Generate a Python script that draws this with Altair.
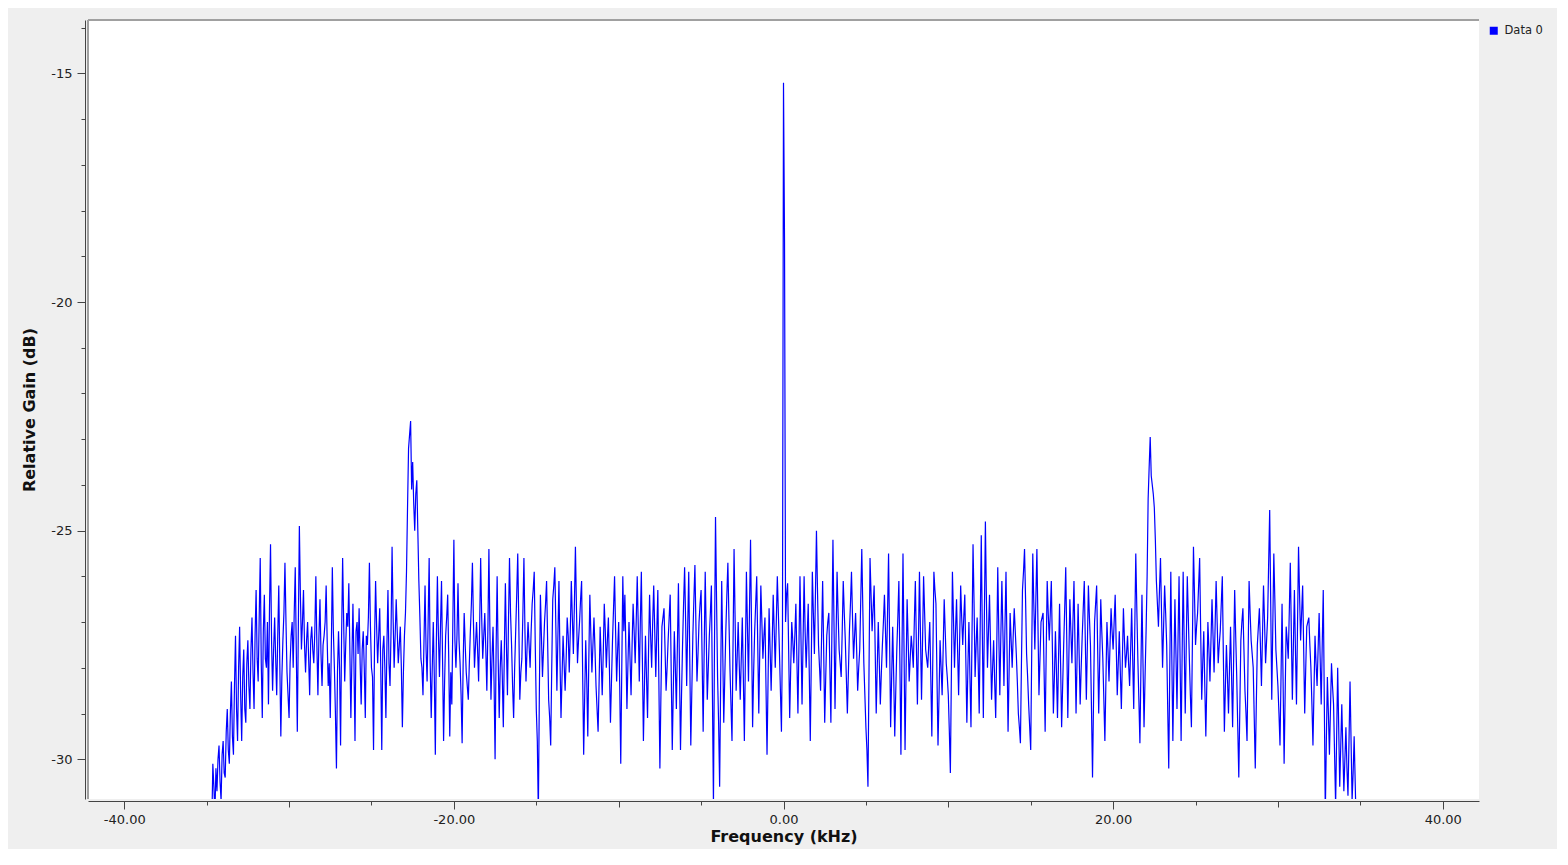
import altair as alt
import pandas as pd

# Spectrum: main samples every 0.125 kHz starting at -34.875 kHz,
# plus in-between samples (offset +0.0625 kHz) giving the dense noise band.
F_START = -34.875
F_STEP = 0.0625

gain_m35_m30 = [-31.5, -31.5, -30.1, -31.2, -30.7, -29.7, -30.9, -29.6,
                -30.4, -28.9, -30.1, -28.3, -29.9, -27.3, -29.6, -27.1,
                -29.6, -27.6, -29.2, -27.4, -28.9, -26.9, -28.9, -26.3,
                -28.3, -25.6, -29.1, -26.4, -28.0, -28.8, -25.3, -28.5,
                -26.9, -28.6, -26.2, -29.5, -27.4, -25.7, -28.1, -29.1]
mid_m35_m30 = [-31.5, -31.4, -30.6, -30.2, -30.0, -30.5, -29.9, -30.3,
               -29.4, -29.8, -29.0, -29.5, -28.4, -28.9, -28.0, -28.6,
               -28.2, -28.9, -27.9, -28.4, -27.6, -28.1, -27.3, -27.8,
               -26.9, -27.9, -27.2, -27.8, -27.0, -26.7, -27.4, -27.6,
               -27.8, -27.3, -27.9, -28.2, -26.8, -27.0, -28.6, -27.9]
gain_m30_m25 = [-27.3, -28.0, -25.8, -29.4, -24.9, -27.6, -26.3, -28.1,
                -27.0, -28.6, -27.1, -27.9, -26.0, -28.6, -26.5, -28.4,
                -27.3, -26.2, -28.4, -29.1, -25.8, -28.0, -30.2, -27.2,
                -29.7, -25.6, -28.3, -26.8, -26.15, -29.1, -26.6, -29.6,
                -27.0, -26.7, -28.8, -27.2, -29.1, -27.5, -25.7, -28.0]
mid_m30_m25 = [-27.0, -26.8, -27.6, -27.1, -26.4, -27.0, -27.5, -27.4,
               -27.8, -27.4, -27.6, -27.2, -27.5, -27.3, -27.7, -27.5,
               -27.0, -27.4, -27.9, -27.6, -27.2, -29.0, -28.1, -28.0,
               -27.3, -27.0, -27.5, -27.1, -27.6, -27.8, -27.9, -27.2,
               -27.7, -27.9, -27.6, -28.0, -27.3, -26.9, -27.1, -28.2]
gain_m25_m20 = [-29.8, -26.1, -27.9, -26.7, -29.8, -27.3, -29.1, -26.3,
                -28.4, -25.35, -28.0, -26.5, -27.9, -27.1, -29.3, -27.3,
                -25.9, -23.2, -22.6, -23.5, -25.0, -23.9, -26.1, -27.8,
                -28.6, -26.2, -28.3, -25.6, -29.1, -27.0, -29.9, -26.0,
                -28.2, -26.1, -29.6, -27.3, -26.4, -29.5, -28.8, -25.2]
mid_m25_m20 = [-27.4, -27.1, -27.3, -28.0, -27.6, -28.0, -27.5, -27.9,
               -27.2, -26.9, -27.3, -27.2, -27.5, -28.0, -28.1, -26.8,
               -24.5, -22.9, -24.1, -24.4, -24.2, -25.0, -26.9, -28.0,
               -27.4, -27.6, -27.0, -27.9, -28.0, -28.2, -27.4, -27.3,
               -27.1, -27.8, -28.3, -26.9, -27.8, -28.1, -27.0, -27.4]
gain_m20_m15 = [-28.0, -26.15, -27.9, -29.65, -26.8, -28.1, -28.7, -27.2,
                -25.7, -28.0, -27.0, -28.3, -25.6, -27.8, -26.8, -28.5,
                -25.4, -28.7, -27.1, -30.0, -26.0, -29.1, -27.4, -29.3,
                -26.15, -28.6, -25.6, -27.5, -29.1, -27.2, -25.5, -28.7,
                -27.8, -25.6, -28.3, -27.0, -28.0, -26.6, -25.9, -28.9]
mid_m20_m15 = [-27.3, -27.4, -28.6, -27.9, -27.5, -28.4, -27.9, -26.6,
               -27.0, -27.5, -27.6, -27.1, -26.9, -27.3, -27.6, -27.2,
               -27.2, -27.8, -28.3, -27.6, -27.8, -28.0, -28.2, -27.6,
               -27.5, -27.0, -26.8, -28.4, -28.0, -26.4, -27.0, -28.1,
               -26.8, -27.2, -27.6, -27.5, -27.2, -26.3, -27.5, -29.6]
gain_m15_m10 = [-31.2, -26.4, -28.2, -27.0, -26.1, -28.7, -29.7, -26.5,
                -25.8, -28.5, -26.1, -29.1, -27.3, -28.5, -26.9, -28.1,
                -26.1, -27.7, -25.35, -27.9, -27.0, -26.1, -29.9, -27.4,
                -29.5, -26.4, -28.1, -26.9, -28.4, -29.4, -27.1, -28.6,
                -26.6, -28.0, -26.9, -29.2, -27.4, -26.0, -28.3, -27.0]
mid_m15_m10 = [-28.5, -27.3, -27.6, -26.6, -27.4, -29.1, -28.0, -26.2,
               -27.1, -27.3, -27.8, -28.2, -27.9, -27.8, -27.3, -27.2,
               -26.9, -26.6, -26.7, -27.4, -26.5, -28.1, -28.6, -28.3,
               -27.8, -27.3, -27.5, -27.6, -28.9, -28.3, -27.8, -27.7,
               -27.2, -27.4, -28.0, -28.3, -26.7, -27.2, -27.6, -28.4]
gain_m10_m5 = [-30.1, -26.0, -26.4, -28.9, -27.0, -28.6, -26.6, -27.9,
               -26.0, -28.3, -25.9, -29.6, -27.3, -29.1, -26.4, -28.0,
               -26.2, -28.2, -26.3, -30.2, -27.1, -26.7, -28.5, -27.4,
               -26.4, -29.8, -27.2, -28.9, -26.15, -29.8, -27.5, -25.8,
               -28.4, -25.9, -29.7, -27.3, -25.75, -28.3, -27.0, -26.3]
mid_m10_m5 = [-28.0, -27.2, -27.6, -27.9, -27.8, -27.5, -27.2, -27.0,
              -27.1, -27.0, -27.8, -28.4, -28.2, -27.6, -27.3, -27.0,
              -27.2, -27.2, -28.3, -28.6, -26.9, -27.6, -28.0, -26.9,
              -28.1, -28.5, -28.0, -27.5, -28.0, -28.6, -26.6, -27.0,
              -27.1, -27.8, -28.5, -26.5, -27.1, -27.7, -26.6, -27.8]
gain_m5_0 = [-29.4, -25.9, -28.7, -27.3, -26.2, -31.0, -24.7, -28.2,
             -30.6, -26.1, -29.2, -27.2, -25.7, -28.0, -29.6, -25.4,
             -28.5, -27.0, -28.7, -26.9, -29.6, -25.9, -28.3, -25.2,
             -29.3, -27.2, -26.0, -29.0, -26.2, -27.8, -26.9, -29.9,
             -26.7, -28.5, -26.4, -28.0, -26.0, -27.6, -29.4, -15.2]
mid_m5_0 = [-27.6, -27.3, -28.0, -26.8, -28.6, -27.5, -26.5, -29.2,
            -28.3, -27.6, -28.2, -26.4, -26.9, -28.8, -27.5, -26.9,
            -27.8, -27.9, -27.8, -28.2, -27.8, -27.1, -26.7, -27.2,
            -28.1, -26.6, -27.5, -27.6, -27.0, -27.3, -28.4, -28.3,
            -27.6, -27.5, -27.2, -27.0, -26.8, -28.5, -27.2, -18.7]
gain_0_5 = [-27.0, -26.15, -29.1, -27.0, -27.9, -26.6, -29.0, -26.0,
            -28.8, -26.0, -28.0, -26.6, -29.6, -25.9, -27.7, -25.0,
            -27.5, -28.5, -26.1, -29.2, -27.3, -26.8, -29.2, -25.2,
            -28.9, -25.9, -27.6, -28.2, -26.1, -27.4, -29.0, -27.2,
            -25.9, -27.8, -26.8, -28.5, -27.6, -25.4, -27.9, -29.3]
mid_0_5 = [-26.4, -27.6, -28.0, -27.4, -27.3, -27.8, -27.5, -27.4,
           -27.4, -27.2, -27.3, -28.1, -27.8, -26.8, -26.4, -26.3,
           -28.0, -27.3, -27.6, -28.2, -27.0, -28.0, -27.2, -27.0,
           -27.4, -26.8, -27.9, -27.2, -26.8, -28.2, -28.1, -26.6,
           -26.9, -27.3, -27.6, -28.0, -26.5, -26.7, -28.6, -29.8]
gain_5_10 = [-30.6, -25.6, -27.2, -26.2, -29.0, -27.0, -28.8, -27.5,
             -26.4, -28.0, -25.5, -29.3, -27.1, -29.5, -27.6, -26.1,
             -29.9, -25.5, -29.8, -26.5, -28.3, -27.3, -28.0, -26.1,
             -28.8, -25.9, -28.7, -26.0, -27.6, -28.0, -27.0, -29.5,
             -25.9, -26.6, -29.7, -27.4, -28.6, -26.5, -27.9, -28.6]
mid_5_10 = [-28.1, -26.4, -26.7, -27.6, -28.0, -27.9, -28.1, -27.0,
            -27.2, -26.8, -27.4, -28.2, -28.2, -28.5, -26.9, -27.9,
            -27.7, -27.6, -28.1, -27.4, -27.8, -27.6, -27.0, -27.5,
            -27.4, -27.3, -27.4, -26.8, -27.8, -27.5, -28.2, -27.7,
            -26.3, -28.2, -28.6, -28.0, -27.6, -27.2, -28.2, -29.4]
gain_10_15 = [-30.3, -25.9, -28.0, -26.5, -28.6, -26.2, -27.5, -26.4,
              -29.2, -27.0, -29.3, -25.3, -28.2, -26.9, -29.0, -25.1,
              -29.1, -24.8, -28.0, -26.4, -28.7, -27.4, -29.1, -25.8,
              -28.6, -26.1, -28.4, -25.9, -29.4, -26.8, -28.0, -26.7,
              -27.7, -29.0, -29.65, -26.3, -25.4, -27.7, -28.8, -29.8]
mid_10_15 = [-28.1, -26.9, -27.2, -27.6, -27.4, -26.9, -26.9, -27.8,
             -28.0, -28.2, -27.3, -26.6, -27.5, -27.9, -27.0, -27.2,
             -26.9, -26.5, -27.2, -27.5, -28.0, -28.3, -27.6, -27.2,
             -27.3, -27.2, -27.1, -27.6, -28.1, -27.4, -27.3, -27.2,
             -28.3, -29.3, -27.9, -25.9, -26.5, -28.2, -29.3, -27.6]
gain_15_20 = [-25.5, -27.6, -25.4, -28.6, -27.0, -26.8, -29.4, -26.1,
              -27.4, -26.1, -29.0, -27.2, -29.1, -26.6, -29.3, -27.5,
              -25.8, -29.1, -26.5, -27.9, -26.1, -29.0, -26.6, -28.8,
              -27.3, -26.1, -28.7, -26.2, -27.5, -30.4, -27.0, -26.2,
              -29.0, -26.5, -27.8, -29.6, -27.0, -28.3, -26.7, -27.6]
mid_15_20 = [-26.6, -26.5, -27.0, -27.8, -26.9, -28.1, -27.7, -26.8,
             -26.8, -27.5, -28.2, -28.1, -27.8, -27.9, -28.4, -26.7,
             -27.4, -27.8, -27.2, -27.0, -27.5, -27.8, -27.7, -28.0,
             -26.7, -27.4, -27.5, -26.9, -28.9, -28.7, -26.6, -27.6,
             -27.8, -27.2, -28.7, -28.3, -27.6, -27.5, -27.2, -27.0]
gain_20_25 = [-26.4, -28.6, -27.2, -28.9, -26.7, -28.0, -27.3, -28.4,
              -26.7, -28.9, -25.5, -27.8, -29.65, -26.4, -29.3, -27.2,
              -24.3, -22.95, -24.0, -24.5, -26.1, -27.1, -25.6, -28.0,
              -26.2, -27.5, -30.2, -25.9, -29.6, -26.5, -28.9, -26.0,
              -29.6, -25.9, -29.0, -26.0, -27.8, -29.3, -25.35, -27.5]
mid_20_25 = [-27.5, -27.9, -28.1, -27.8, -27.4, -27.7, -27.9, -27.6,
             -27.8, -27.2, -26.7, -28.7, -28.0, -27.9, -28.2, -26.0,
             -23.6, -23.8, -24.2, -25.2, -26.6, -26.3, -26.8, -27.1,
             -26.8, -28.9, -28.0, -27.8, -28.0, -27.7, -27.4, -27.8,
             -27.7, -27.5, -27.5, -26.9, -28.6, -27.4, -26.4, -27.1]
gain_25_30 = [-26.8, -25.6, -28.7, -27.2, -29.5, -27.0, -28.3, -26.5,
              -28.1, -26.1, -27.9, -27.2, -26.0, -29.4, -27.5, -29.0,
              -27.1, -29.3, -26.3, -28.2, -30.4, -27.4, -26.7, -28.5,
              -29.6, -26.1, -27.4, -28.0, -30.2, -27.5, -26.7, -28.4,
              -26.2, -27.9, -26.9, -24.55, -28.7, -25.5, -27.6, -28.4]
mid_25_30 = [-26.2, -27.2, -27.9, -28.4, -28.3, -27.6, -27.4, -27.3,
             -27.1, -27.0, -27.5, -26.6, -27.7, -28.4, -28.2, -28.0,
             -28.2, -27.8, -27.3, -29.3, -28.9, -27.0, -27.6, -29.0,
             -27.8, -26.8, -27.7, -29.1, -28.8, -27.1, -27.5, -27.3,
             -27.0, -27.4, -25.7, -26.6, -27.1, -26.5, -28.0, -29.0]
gain_30_35 = [-29.7, -26.6, -30.1, -27.1, -27.8, -25.7, -28.7, -26.3,
              -28.8, -25.35, -27.4, -26.2, -29.0, -27.1, -26.9, -28.0,
              -29.7, -27.3, -28.4, -26.8, -28.8, -26.3, -31.2, -28.2,
              -29.9, -27.9, -28.8, -31.0, -28.0, -30.6, -28.8, -30.7,
              -29.3, -30.8, -28.3, -30.9, -29.5, -31.5, -31.5, -31.5]
mid_30_35 = [-28.2, -28.3, -28.6, -27.4, -26.8, -27.2, -27.5, -27.6,
             -27.1, -26.4, -26.8, -27.6, -28.0, -27.0, -27.5, -28.8,
             -28.5, -27.9, -27.6, -27.8, -27.5, -28.7, -29.6, -29.0,
             -28.9, -28.4, -29.9, -29.5, -29.3, -29.7, -29.8, -30.0,
             -30.2, -29.6, -29.6, -30.3, -30.5, -31.5, -31.5, -31.5]

x_ticks = [-40, -35, -30, -25, -20, -15, -10, -5, 0, 5, 10, 15, 20, 25, 30, 35, 40]
y_ticks = [-30, -29, -28, -27, -26, -25, -24, -23, -22, -21, -20, -19, -18, -17, -16, -15, -14]
series_name = "Data 0"

main_samples = (gain_m35_m30 + gain_m30_m25 + gain_m25_m20 + gain_m20_m15 + gain_m15_m10
                + gain_m10_m5 + gain_m5_0 + gain_0_5 + gain_5_10 + gain_10_15 + gain_15_20
                + gain_20_25 + gain_25_30 + gain_30_35)
mid_samples = (mid_m35_m30 + mid_m30_m25 + mid_m25_m20 + mid_m20_m15 + mid_m15_m10
               + mid_m10_m5 + mid_m5_0 + mid_0_5 + mid_5_10 + mid_10_15 + mid_15_20
               + mid_20_25 + mid_25_30 + mid_30_35)
gains = [v for pair in zip(main_samples, mid_samples) for v in pair]
freqs = [F_START + i * F_STEP for i in range(len(gains))]
df = pd.DataFrame({"freq": freqs, "gain": gains, "series": series_name})

W, H = 1391, 779
FONT = "DejaVu Sans"
MINUS = "\u2212"

line = alt.Chart(df).mark_line(strokeWidth=1.2, clip=True).encode(
    x=alt.X("freq:Q",
            scale=alt.Scale(domain=[-42.2, 42.2], nice=False, zero=False),
            axis=alt.Axis(values=x_ticks, format=".2f",
                          labelExpr=f"datum.value % 20 === 0 ? replace(datum.label, '{MINUS}', '-') : ''",
                          tickSize={"condition": [{"test": "datum.value % 20 === 0", "value": 8},
                                                  {"test": "datum.value % 10 === 0", "value": 6}],
                                    "value": 4},
                          grid=False, offset=2, labelOverlap=False, labelFlush=False,
                          labelFont=FONT, labelFontSize=13, labelColor="#222222", labelPadding=4,
                          domainColor="#444444", tickColor="#444444",
                          title="Frequency (kHz)", titleFont=FONT, titleFontSize=16,
                          titleFontWeight="bold", titleColor="#111111", titlePadding=2)),
    y=alt.Y("gain:Q",
            scale=alt.Scale(domain=[-30.87, -13.83], nice=False, zero=False),
            axis=alt.Axis(values=y_ticks, format="d",
                          labelExpr=f"datum.value % 5 === 0 ? replace(datum.label, '{MINUS}', '-') : ''",
                          tickSize={"condition": {"test": "datum.value % 5 === 0", "value": 8},
                                    "value": 4},
                          grid=False, offset=3, labelOverlap=False, labelFlush=False,
                          labelFont=FONT, labelFontSize=13, labelColor="#222222", labelPadding=5,
                          domainColor="#444444", tickColor="#444444",
                          title="Relative Gain (dB)", titleFont=FONT, titleFontSize=16,
                          titleFontWeight="bold", titleColor="#111111", titlePadding=13)),
    color=alt.Color("series:N", scale=alt.Scale(range=["#0000ff"]),
                    legend=alt.Legend(orient="none", legendX=1400, legendY=5, title=None,
                                      symbolType="square", symbolSize=64,
                                      symbolFillColor="#0000ff", symbolStrokeColor="#0000ff",
                                      symbolStrokeWidth=0, padding=0,
                                      labelFont=FONT, labelFontSize=11.5, labelColor="#222222",
                                      labelOffset=5)),
)

frame_top = alt.Chart(pd.DataFrame({"edge": ["top"]})).mark_rule(
    color="#a0a0a0", strokeWidth=2).encode(
    x=alt.value(0), x2=alt.value(W), y=alt.value(0))
frame_left = alt.Chart(pd.DataFrame({"edge": ["left"]})).mark_rule(
    color="#a0a0a0", strokeWidth=2).encode(
    x=alt.value(0), y=alt.value(0), y2=alt.value(H))

chart = alt.layer(line, frame_top, frame_left).properties(
    width=W, height=H,
    background="#efefef",
    autosize=alt.AutoSizeParams(type="none"),
    padding={"left": 80, "top": 12, "right": 78, "bottom": 50},
).configure_view(fill="white", strokeWidth=0)

chart.save("out.html", embed_options={"renderer": "svg", "actions": False})
